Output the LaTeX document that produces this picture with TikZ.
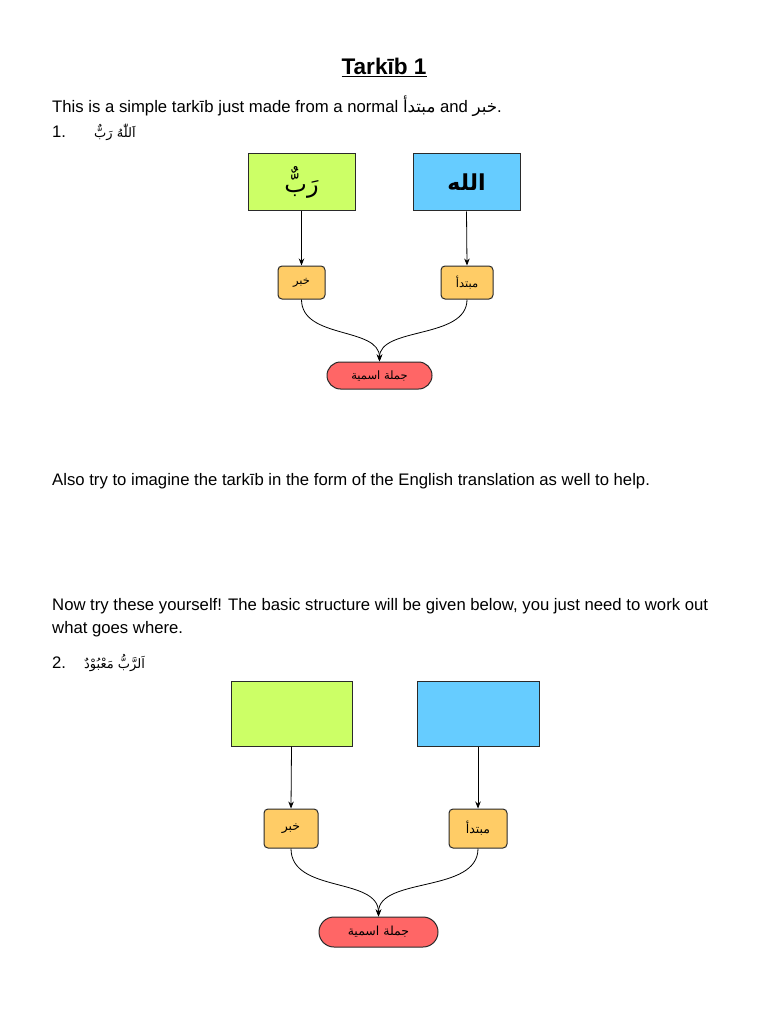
\documentclass[tikz,border=0pt]{standalone}
\usepackage{fontspec}
\setmainfont{Liberation Sans}
\newfontfamily\arabicfont[Script=Arabic]{DejaVu Sans}
\TeXXeTstate=1
\usetikzlibrary{arrows.meta,shapes.misc}
\definecolor{boxgreen}{HTML}{CCFF66}
\definecolor{boxblue}{HTML}{66CCFF}
\definecolor{boxorange}{HTML}{FFCC66}
\definecolor{boxred}{HTML}{FF6666}
\definecolor{edgegray}{HTML}{2A2A2A}
\tikzset{
  bigbox/.style={draw=edgegray, line width=1pt, inner sep=0pt},
  smallbox/.style={draw=edgegray, line width=1pt, rounded corners=4pt, fill=boxorange, inner sep=0pt, font=\arabicfont\fontsize{11.5}{13}\selectfont},
  jumlabox/.style={draw=edgegray, line width=1pt, rounded rectangle, fill=boxred, inner sep=0pt, font=\arabicfont\fontsize{11.5}{13}\selectfont},
  conn/.style={draw=black, line width=0.8pt, -{Stealth[length=7pt,width=5.5pt]}},
  body/.style={anchor=base west, inner sep=0pt, font=\fontsize{16.7}{19}\selectfont},
  arabline/.style={anchor=base west, inner sep=0pt, font=\arabicfont\fontsize{13}{16}\selectfont},
}
\begin{document}
\begin{tikzpicture}[x=1pt,y=-1pt]
\useasboundingbox[fill=white] (0,0) rectangle (768,1024);

\node[anchor=base, inner sep=0pt, font=\bfseries\fontsize{22.6}{26}\selectfont] (title) at (384,75) {\underline{Tarkīb 1}};

\node[body] (l1) at (52,113) {This is a simple tarkīb just made from a normal {\arabicfont\beginR مبتدأ\endR} and {\arabicfont\beginR خبر\endR}.};
\node[body] (l2) at (52,138) {1.};
\node[arabline] (a2) at (94,138) {\beginR اَللّٰهُ رَبٌّ\endR};

% Diagram 1
\node[bigbox, fill=boxgreen, minimum width=107pt, minimum height=57pt, font=\arabicfont\fontsize{24}{28}\selectfont] (g1) at (301.5,182.5) {\beginR رَبٌّ\endR};
\node[bigbox, fill=boxblue, minimum width=107pt, minimum height=57pt, font=\arabicfont\bfseries\fontsize{22}{26}\selectfont] (b1) at (466.5,182.5) {\beginR الله\endR};
\node[smallbox, minimum width=47pt, minimum height=33pt] (k1) at (301.5,282.5) {\beginR خبر\endR};
\node[smallbox, minimum width=52pt, minimum height=33pt] (m1) at (467,282.5) {\beginR مبتدأ\endR};
\node[jumlabox, minimum width=105pt, minimum height=27pt] (j1) at (379.5,375.5) {\beginR جملة اسمية\endR};
\draw[conn] (g1.south) -- (k1.north);
\draw[conn] (b1.south) -- (m1.north);
\draw[conn] (k1.south) .. controls +(0,40) and +(0,-35) .. (j1.north);
\draw[conn] (m1.south) .. controls +(0,40) and +(0,-35) .. (j1.north);

\node[body] (l3) at (52,485) {Also try to imagine the tarkīb in the form of the English translation as well to help.};
\node[body] (l4) at (52,610) {Now try these yourself! The basic structure will be given below, you just need to work out};
\node[body] (l5) at (52,633) {what goes where.};
\node[body] (l6) at (52,668) {2.};
\node[arabline] (a6) at (84,668) {\beginR اَلرَّبُّ مَعْبُوْدٌ\endR};

% Diagram 2
\node[bigbox, fill=boxgreen, minimum width=121pt, minimum height=65pt] (g2) at (291.5,713.5) {};
\node[bigbox, fill=boxblue, minimum width=122pt, minimum height=65pt] (b2) at (478,713.5) {};
\node[smallbox, minimum width=54pt, minimum height=39pt, font=\arabicfont\fontsize{12.5}{14}\selectfont] (k2) at (291,828.5) {\beginR خبر\endR};
\node[smallbox, minimum width=58pt, minimum height=39pt, font=\arabicfont\fontsize{12.5}{14}\selectfont] (m2) at (478,828.5) {\beginR مبتدأ\endR};
\node[jumlabox, minimum width=119pt, minimum height=30pt, font=\arabicfont\fontsize{12.5}{14}\selectfont] (j2) at (378.5,932) {\beginR جملة اسمية\endR};
\draw[conn] (g2.south) -- (k2.north);
\draw[conn] (b2.south) -- (m2.north);
\draw[conn] (k2.south) .. controls +(0,45) and +(0,-40) .. (j2.north);
\draw[conn] (m2.south) .. controls +(0,45) and +(0,-40) .. (j2.north);
\end{tikzpicture}
\end{document}
